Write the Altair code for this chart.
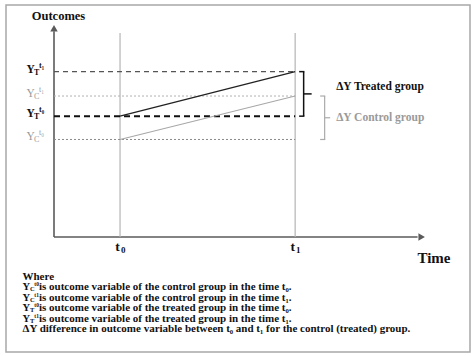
import altair as alt
import pandas as pd

# ---------------- data ----------------
time_names = ["0", "1"]               # t0, t1
time_values = [17.8, 65.0]            # position of t0 / t1 on the time axis
treated = [57.0, 78.0]                # Y_T at t0, t1
control = [46.0, 66.5]                # Y_C at t0, t1
legend_labels = ["ΔY Treated group", "ΔY Control group"]
y_title = "Outcomes"
x_title = "Time"
note_header = "Where"
note_groups = ["C", "C", "T", "T"]
note_times = ["0", "1", "0", "1"]
note_bodies = [
    "is outcome variable of the control group in the time t₀.",
    "is outcome variable of the control group in the time t₁.",
    "is outcome variable of the treated group in the time t₀.",
    "is outcome variable of the treated group in the time t₁.",
]
note_last = "ΔY difference in outcome variable between t₀ and t₁ for the control (treated) group."
axis_max = 100

SUB = {"0": "₀", "1": "₁"}
FONT = "Liberation Serif"
DARK = "#111111"
GREY = "#9a9a9a"
AXC = "#5a5a5a"

XS = alt.Scale(domain=[0, axis_max], range=[48, 419])
YS = alt.Scale(domain=[0, axis_max], range=[232, 20])


def X(f):
    return alt.X(f"{f}:Q", scale=XS, axis=None)


def Y(f):
    return alt.Y(f"{f}:Q", scale=YS, axis=None)


t0, t1 = time_values
layers = []

# axes
axes_df = pd.DataFrame({"x": [0, 0], "x2": [0, axis_max * 0.98],
                        "y": [0, 0], "y2": [axis_max * 0.97, 0]})
layers.append(alt.Chart(axes_df).mark_rule(color=AXC, strokeWidth=1.6).encode(
    x=X("x"), x2=alt.X2("x2"), y=Y("y"), y2=alt.Y2("y2")))
arrow_df = pd.DataFrame({"x": [0, axis_max * 0.991], "y": [axis_max * 0.985, 0],
                         "shape": ["triangle-up", "triangle-right"]})
layers.append(alt.Chart(arrow_df).mark_point(filled=True, size=56, color=AXC, opacity=1).encode(
    x=X("x"), y=Y("y"), shape=alt.Shape("shape:N", scale=None)))

# time verticals
tv_df = pd.DataFrame({"t": time_values, "lo": [0, 0], "hi": [axis_max * 0.962] * 2})
layers.append(alt.Chart(tv_df).mark_rule(color="#b5b5b5", strokeWidth=1.2).encode(
    x=X("t"), y=Y("lo"), y2=alt.Y2("hi")))

# horizontal reference levels
level_values = [treated[1], control[1], treated[0], control[0]]
level_groups = ["T", "C", "T", "C"]
level_times = ["1", "1", "0", "0"]
level_styles = [
    dict(color="#555555", strokeDash=[5, 4], strokeWidth=1.2),
    dict(color="#b0b0b0", strokeDash=[2, 2], strokeWidth=1.0),
    dict(color="#111111", strokeDash=[6, 4], strokeWidth=2.0),
    dict(color="#8a8a8a", strokeDash=[2, 2], strokeWidth=1.0),
]
for v, st in zip(level_values, level_styles):
    d = pd.DataFrame({"x": [0], "x2": [t1], "y": [v]})
    layers.append(alt.Chart(d).mark_rule(**st).encode(x=X("x"), x2=alt.X2("x2"), y=Y("y")))

# group lines
tr_df = pd.DataFrame({"t": time_values, "v": treated})
co_df = pd.DataFrame({"t": time_values, "v": control})
layers.append(alt.Chart(tr_df).mark_line(color="#222222", strokeWidth=1.3).encode(x=X("t"), y=Y("v")))
layers.append(alt.Chart(co_df).mark_line(color="#a8a8a8", strokeWidth=1.1).encode(x=X("t"), y=Y("v")))


# brackets
def bracket(lo, hi, arm, vert, tick, color, width):
    out = []
    dv = pd.DataFrame({"t": [t1], "lo": [lo], "hi": [hi]})
    out.append(alt.Chart(dv).mark_rule(color=color, strokeWidth=width, xOffset=vert).encode(
        x=X("t"), y=Y("lo"), y2=alt.Y2("hi")))
    da = pd.DataFrame({"t": [t1, t1], "y": [lo, hi]})
    out.append(alt.Chart(da).mark_rule(color=color, strokeWidth=width, xOffset=arm, x2Offset=vert + width / 2).encode(
        x=X("t"), x2=alt.X2("t"), y=Y("y")))
    dt = pd.DataFrame({"t": [t1], "y": [(lo + hi) / 2]})
    out.append(alt.Chart(dt).mark_rule(color=color, strokeWidth=width, xOffset=vert, x2Offset=tick).encode(
        x=X("t"), x2=alt.X2("t"), y=Y("y")))
    return out


layers += bracket(treated[0], treated[1], 4, 8.5, 16.5, DARK, 1.5)
layers += bracket(control[0], control[1], 25, 29.5, 35, "#aaaaaa", 1.2)

# legend labels
leg_df = pd.DataFrame({"t": [t1, t1], "y": [(treated[0] + treated[1]) / 2, (control[0] + control[1]) / 2],
                       "label": legend_labels})
layers.append(alt.Chart(leg_df.iloc[[0]]).mark_text(
    align="left", baseline="middle", dx=41, dy=-7, font=FONT, fontSize=11.5, fontWeight="bold",
    color=DARK).encode(x=X("t"), y=Y("y"), text="label:N"))
layers.append(alt.Chart(leg_df.iloc[[1]]).mark_text(
    align="left", baseline="middle", dx=41, dy=0, font=FONT, fontSize=11.5, fontWeight="bold",
    color=GREY).encode(x=X("t"), y=Y("y"), text="label:N"))

# y-axis level labels
lab_df = pd.DataFrame({"x": [0] * 4, "y": level_values, "g": level_groups,
                       "sup": ["t" + SUB[t] for t in level_times], "Y": ["Y"] * 4})
for g, col, wt in [("T", DARK, "bold"), ("C", GREY, "normal")]:
    sub = lab_df[lab_df.g == g]
    base = alt.Chart(sub)
    layers.append(base.mark_text(align="left", baseline="alphabetic", dx=-27.5, dy=1, font=FONT,
                                 fontSize=11.5, fontWeight=wt, color=col).encode(
        x=X("x"), y=Y("y"), text="Y:N"))
    layers.append(base.mark_text(align="left", baseline="alphabetic", dx=-20, dy=3, font=FONT,
                                 fontSize=8, fontWeight=wt, color=col).encode(
        x=X("x"), y=Y("y"), text="g:N"))
    layers.append(base.mark_text(align="left", baseline="alphabetic", dx=-15, dy=-4, font=FONT,
                                 fontSize=8, fontWeight=wt, color=col).encode(
        x=X("x"), y=Y("y"), text="sup:N"))

# t0 / t1 labels
tl_df = pd.DataFrame({"t": time_values, "y": [0, 0], "T": ["t", "t"], "n": time_names})
layers.append(alt.Chart(tl_df).mark_text(baseline="middle", dx=-2.5, dy=10, font=FONT, fontSize=13.5,
                                         fontWeight="bold", color=DARK).encode(
    x=X("t"), y=Y("y"), text="T:N"))
layers.append(alt.Chart(tl_df).mark_text(baseline="middle", dx=3.2, dy=12.8, font=FONT, fontSize=9,
                                         fontWeight="bold", color=DARK).encode(
    x=X("t"), y=Y("y"), text="n:N"))

# axis titles
tt_df = pd.DataFrame({"x": [0, axis_max], "y": [axis_max, 0], "label": [y_title, x_title]})
layers.append(alt.Chart(tt_df.iloc[[0]]).mark_text(baseline="middle", dx=4.5, dy=-9, font=FONT, fontSize=12.5,
                                                   fontWeight="bold", color=DARK).encode(
    x=X("x"), y=Y("y"), text="label:N"))
layers.append(alt.Chart(tt_df.iloc[[1]]).mark_text(baseline="middle", dx=9, dy=21, font=FONT, fontSize=15,
                                                   fontWeight="bold", color=DARK).encode(
    x=X("x"), y=Y("y"), text="label:N"))

main = alt.layer(*layers)

# notes block
NY = alt.Scale(domain=[0, 5], range=[271.5, 324])
rows_head = pd.DataFrame({"row": [0, 5], "text": [note_header, note_last]})
rows_mid = pd.DataFrame({"row": [1, 2, 3, 4], "Y": ["Y"] * 4, "g": note_groups,
                         "sup": ["t" + t for t in note_times], "body": note_bodies})
ny = alt.Y("row:Q", scale=NY, axis=None)
nstyle = dict(align="left", baseline="middle", font=FONT, fontWeight="bold", color=DARK)
notes = alt.layer(
    alt.Chart(rows_head).mark_text(fontSize=11, **nstyle).encode(x=alt.value(16.5), y=ny, text="text:N"),
    alt.Chart(rows_mid).mark_text(fontSize=10.5, **nstyle).encode(x=alt.value(16.5), y=ny, text="Y:N"),
    alt.Chart(rows_mid).mark_text(fontSize=6.5, dy=2, **nstyle).encode(x=alt.value(24), y=ny, text="g:N"),
    alt.Chart(rows_mid).mark_text(fontSize=5.5, dy=-3, **nstyle).encode(x=alt.value(28.3), y=ny, text="sup:N"),
    alt.Chart(rows_mid).mark_text(fontSize=11, **nstyle).encode(x=alt.value(33), y=ny, text="body:N"),
)

chart = alt.layer(main, notes).resolve_scale(y="independent").properties(
    width=464, height=347,
    padding={"left": 6, "top": 5, "right": 4, "bottom": 4},
    autosize=alt.AutoSizeParams(type="none"),
    background="white",
).configure_view(stroke="#a8a8a8", strokeWidth=1.5)

chart.save("out.html", embed_options={"renderer": "svg", "actions": False})
